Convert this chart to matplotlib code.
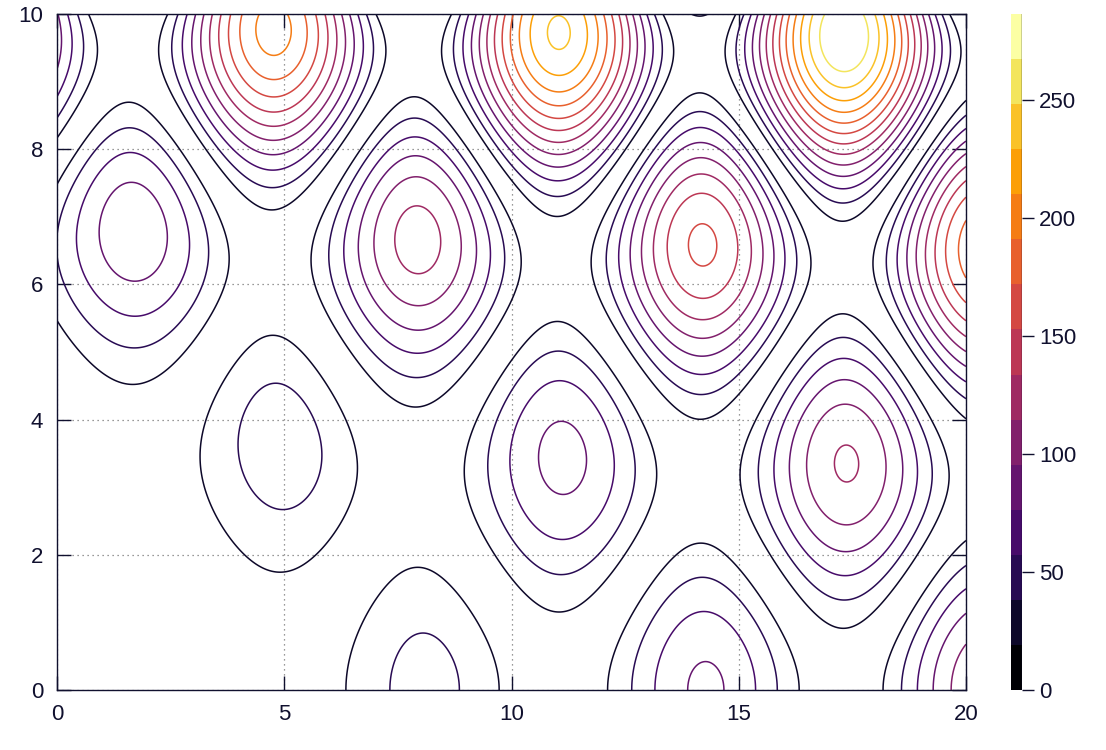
import numpy as np
import matplotlib
matplotlib.use("Agg")
import matplotlib.pyplot as plt
from matplotlib.colors import ListedColormap, BoundaryNorm
import matplotlib.colorbar as mcolorbar

# grid of the surface z = (3x + y^2) * |sin x + cos y|
x = np.linspace(0, 20, 801)
y = np.linspace(0, 10, 401)
X, Y = np.meshgrid(x, y)
Z = (3 * X + Y ** 2) * np.abs(np.sin(X) + np.cos(Y))

zmin, zmax = 0.0, float(Z.max())
line_levels = np.linspace(zmin, zmax, 15)   # 13 inner contour lines
band_levels = np.linspace(zmin, zmax, 16)   # 15 colorbar bands
x_ticks = [0, 5, 10, 15, 20]
y_ticks = [0, 2, 4, 6, 8, 10]
cbar_ticks = [0, 50, 100, 150, 200, 250]

txt = "#10102e"
plt.rcParams["font.family"] = ["Liberation Sans", "DejaVu Sans"]

fig = plt.figure(figsize=(11.06, 7.5), dpi=100)
ax = fig.add_axes([57 / 1106, 1 - 690 / 750, (966 - 57) / 1106, (690 - 14) / 750])

cmap = plt.get_cmap("inferno")
ax.contour(X, Y, Z, levels=line_levels[1:-1], cmap=cmap, vmin=zmin, vmax=zmax,
           linewidths=1.1)

ax.set_xlim(0, 20)
ax.set_ylim(0, 10)
ax.set_xticks(x_ticks)
ax.set_yticks(y_ticks)
ax.grid(True, linestyle=(0, (1, 3)), color="#777777", linewidth=0.9)
ax.tick_params(direction="in", length=10, width=1.0, color=txt, labelcolor=txt,
               top=True, right=True, labelsize=16, pad=10)
for s in ax.spines.values():
    s.set_color(txt)
    s.set_linewidth(1.0)

# discrete colorbar
band_colors = [cmap(i / 14) for i in range(15)]
cax = fig.add_axes([1011 / 1106, 1 - 690 / 750, 11 / 1106, (690 - 14) / 750])
cb = mcolorbar.ColorbarBase(cax, cmap=ListedColormap(band_colors),
                            norm=BoundaryNorm(band_levels, 15), boundaries=band_levels,
                            ticks=cbar_ticks, orientation="vertical")
cb.outline.set_visible(False)
cb.minorticks_off()
cax.axvline(1, color=txt, linewidth=1.0)
cax.tick_params(direction="out", length=8.5, width=1.0, color=txt, labelcolor=txt,
                labelsize=16, pad=4)
cax.tick_params(which="minor", length=0)
cax.set_yticklabels([str(t) for t in cbar_ticks])

fig.savefig("out.png", dpi=100)
